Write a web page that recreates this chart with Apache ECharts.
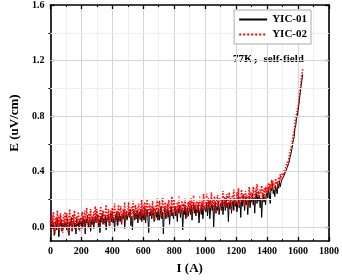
<!DOCTYPE html>
<html><head><meta charset="utf-8">
<script src="https://cdn.jsdelivr.net/npm/echarts@6/dist/echarts.min.js"></script>
<style>html,body{margin:0;padding:0;background:#fff}#c{width:342px;height:280px}</style>
</head><body><div id="c"></div>
<script>
// Current (A), sampled every 5 A
const currentA = [
0,5,10,15,20,25,30,35,40,45,50,55,60,65,70,75,80,85,90,95,
100,105,110,115,120,125,130,135,140,145,150,155,160,165,170,175,180,185,190,195,
200,205,210,215,220,225,230,235,240,245,250,255,260,265,270,275,280,285,290,295,
300,305,310,315,320,325,330,335,340,345,350,355,360,365,370,375,380,385,390,395,
400,405,410,415,420,425,430,435,440,445,450,455,460,465,470,475,480,485,490,495,
500,505,510,515,520,525,530,535,540,545,550,555,560,565,570,575,580,585,590,595,
600,605,610,615,620,625,630,635,640,645,650,655,660,665,670,675,680,685,690,695,
700,705,710,715,720,725,730,735,740,745,750,755,760,765,770,775,780,785,790,795,
800,805,810,815,820,825,830,835,840,845,850,855,860,865,870,875,880,885,890,895,
900,905,910,915,920,925,930,935,940,945,950,955,960,965,970,975,980,985,990,995,
1000,1005,1010,1015,1020,1025,1030,1035,1040,1045,1050,1055,1060,1065,1070,1075,1080,1085,1090,1095,
1100,1105,1110,1115,1120,1125,1130,1135,1140,1145,1150,1155,1160,1165,1170,1175,1180,1185,1190,1195,
1200,1205,1210,1215,1220,1225,1230,1235,1240,1245,1250,1255,1260,1265,1270,1275,1280,1285,1290,1295,
1300,1305,1310,1315,1320,1325,1330,1335,1340,1345,1350,1355,1360,1365,1370,1375,1380,1385,1390,1395,
1400,1405,1410,1415,1420,1425,1430,1435,1440,1445,1450,1455,1460,1465,1470,1475,1480,1485,1490,1495,
1500,1505,1510,1515,1520,1525,1530,1535,1540,1545,1550,1555,1560,1565,1570,1575,1580,1585,1590,1595,
1600,1605,1610,1615,1620,1625,1630];
// E (uV/cm), YIC-01
const yic01 = [
0.02,-0.03,0.05,-0.01,0.03,-0.06,0.01,0.04,-0.02,0.06,0.00,-0.07,0.03,0.01,0.05,-0.03,0.02,-0.01,0.04,0.00,
0.03,-0.02,0.06,0.00,-0.06,0.04,0.01,0.07,-0.03,0.02,0.05,-0.01,0.03,-0.05,0.06,0.01,0.04,-0.02,0.05,0.02,
0.04,-0.01,0.07,0.02,0.05,-0.05,0.06,0.03,0.08,0.00,0.04,0.06,-0.03,0.05,0.02,0.07,-0.01,0.04,0.08,0.03,
0.05,0.09,0.00,0.06,-0.04,0.08,0.04,0.10,0.02,0.06,0.03,0.08,-0.02,0.07,0.05,0.09,0.01,0.06,0.10,0.04,
0.10,0.03,0.07,-0.03,0.09,0.05,0.11,0.01,0.06,0.10,0.04,0.08,0.02,0.09,0.06,0.12,-0.01,0.07,0.10,0.05,
0.04,0.11,0.07,0.13,0.01,0.08,-0.02,0.09,0.12,0.05,0.10,0.06,0.12,0.03,0.09,0.11,0.06,0.13,0.04,0.08,
0.10,0.05,0.14,0.03,0.09,0.13,0.07,-0.04,0.11,0.08,0.12,0.06,0.10,0.14,0.04,0.09,0.12,0.07,0.11,0.05,
0.13,0.05,0.10,0.15,0.06,0.11,-0.05,0.09,0.14,0.06,0.10,0.13,0.07,0.12,0.02,0.10,0.15,0.08,0.11,0.06,
0.11,0.15,0.08,0.12,0.04,0.14,0.10,0.16,0.07,0.11,0.13,-0.02,0.12,0.09,0.15,0.06,0.11,0.14,0.08,0.12,
0.14,0.09,0.16,0.05,0.12,0.17,0.10,0.15,0.08,0.13,0.11,0.16,0.03,0.12,0.14,0.09,0.17,0.06,0.12,0.15,
0.15,0.11,0.18,0.08,0.14,0.19,0.06,0.13,0.17,0.12,0.16,0.00,0.14,0.18,0.10,0.15,0.12,0.19,0.09,0.14,
0.17,0.12,0.20,0.09,0.15,0.19,0.12,0.21,0.14,0.17,0.04,0.18,0.13,0.20,0.10,0.16,0.19,0.12,0.21,0.15,
0.19,0.11,0.16,0.22,0.14,0.18,0.07,0.20,0.15,0.23,0.17,0.12,0.21,0.16,0.19,0.09,0.18,0.22,0.14,0.20,
0.18,0.24,0.16,0.21,0.10,0.20,0.25,0.17,0.22,0.19,0.23,0.14,0.21,0.07,0.19,0.24,0.18,0.22,0.16,0.23,
0.25,0.21,0.28,0.23,0.17,0.28,0.26,0.32,0.24,0.27,0.22,0.30,0.27,0.24,0.31,0.28,0.33,0.29,0.32,0.34,
0.35,0.34,0.37,0.36,0.40,0.39,0.43,0.42,0.46,0.45,0.51,0.50,0.56,0.57,0.63,0.65,0.71,0.73,0.78,0.80,
0.84,0.88,0.93,0.97,1.02,1.06,1.10];
// E (uV/cm), YIC-02
const yic02 = [
0.05,-0.03,0.09,0.01,0.11,0.04,-0.05,0.07,0.02,0.12,0.00,0.08,-0.02,0.10,0.03,0.06,-0.04,0.09,0.02,0.11,
0.00,0.10,0.04,-0.04,0.07,0.13,0.01,0.05,-0.02,0.09,0.03,0.12,0.06,-0.01,0.08,0.02,0.11,0.04,-0.03,0.07,
0.03,0.11,0.06,0.00,0.12,0.04,0.09,0.14,0.02,0.07,0.10,-0.01,0.13,0.05,0.08,0.01,0.11,0.06,0.15,0.03,
0.13,0.04,0.09,0.00,0.10,0.15,0.06,0.03,0.12,0.08,0.02,0.11,0.16,0.07,0.04,0.13,0.09,0.01,0.12,0.06,
0.14,0.05,0.10,0.17,0.07,0.02,0.12,0.09,0.16,0.06,0.11,0.15,0.03,0.10,0.13,0.08,0.18,0.05,0.12,0.09,
0.11,0.18,0.08,0.13,0.04,0.15,0.10,0.19,0.07,0.12,0.16,0.06,0.14,0.09,0.17,0.11,0.05,0.13,0.20,0.08,
0.16,0.09,0.18,0.06,0.13,0.20,0.11,0.07,0.17,0.12,0.15,0.08,0.19,0.10,0.14,0.05,0.16,0.12,0.21,0.09,
0.10,0.19,0.13,0.07,0.16,0.21,0.12,0.09,0.18,0.14,0.06,0.17,0.11,0.20,0.13,0.08,0.15,0.22,0.10,0.16,
0.20,0.11,0.15,0.08,0.18,0.13,0.22,0.10,0.16,0.12,0.19,0.09,0.17,0.14,0.21,0.11,0.15,0.07,0.18,0.13,
0.19,0.13,0.21,0.09,0.16,0.23,0.12,0.17,0.14,0.20,0.10,0.18,0.15,0.22,0.11,0.16,0.19,0.13,0.24,0.12,
0.11,0.18,0.24,0.14,0.21,0.12,0.19,0.16,0.25,0.15,0.20,0.13,0.22,0.17,0.10,0.19,0.23,0.14,0.18,0.21,
0.22,0.13,0.19,0.26,0.16,0.22,0.18,0.14,0.24,0.20,0.15,0.25,0.17,0.21,0.12,0.23,0.19,0.27,0.16,0.20,
0.17,0.25,0.20,0.28,0.15,0.22,0.19,0.27,0.21,0.18,0.24,0.16,0.26,0.20,0.23,0.14,0.22,0.29,0.19,0.25,
0.26,0.20,0.29,0.23,0.19,0.28,0.24,0.31,0.22,0.26,0.18,0.27,0.25,0.30,0.21,0.24,0.28,0.20,0.29,0.25,
0.30,0.25,0.32,0.27,0.31,0.26,0.34,0.28,0.33,0.30,0.28,0.35,0.31,0.33,0.29,0.36,0.33,0.38,0.34,0.37,
0.39,0.37,0.41,0.39,0.43,0.42,0.47,0.45,0.50,0.49,0.55,0.54,0.60,0.61,0.67,0.69,0.75,0.76,0.81,0.82,
0.87,0.91,0.97,1.00,1.06,1.10,1.14];
const seriesNames = ['YIC-01','YIC-02'];
const annotation = '77K，self-field';
const xTicks = [0,200,400,600,800,1000,1200,1400,1600,1800];
const yMajor = [0, 0.4, 0.8, 1.2, 1.6];
const yMinor = [0.2, 0.6, 1.0, 1.4];

const FONT = '"Liberation Serif","Times New Roman","Noto Sans CJK SC",serif';
const pair = a => a.map((v, i) => [currentA[i], v]);
const AXLINE = { show: true, onZero: false, lineStyle: { color: '#000', width: 1.6 } };

const xFrame = (pos, extra) => Object.assign({
  type: 'value', min: xTicks[0], max: xTicks[xTicks.length - 1], interval: 200, position: pos,
  axisLine: AXLINE,
  axisTick: { show: true, inside: true, length: 4, lineStyle: { color: '#000', width: 1.3 } },
  minorTick: { show: true, splitNumber: 2, length: 2, lineStyle: { color: '#000', width: 1 } },
  axisLabel: { show: false }, splitLine: { show: false }
}, extra);

const yBase = { type: 'value', min: -0.1, max: 1.6 };
const yFrame = (pos, extra) => Object.assign({}, yBase, {
  position: pos, axisLine: AXLINE,
  axisTick: { show: true, inside: true, length: 4, customValues: yMajor, lineStyle: { color: '#000', width: 1.3 } },
  axisLabel: { show: false }, splitLine: { show: false }, minorTick: { show: false }
}, extra);
const yMinorAxis = (pos) => Object.assign({}, yBase, {
  position: pos, axisLine: { show: false },
  axisTick: { show: true, inside: true, length: 2, customValues: yMinor, lineStyle: { color: '#000', width: 1 } },
  axisLabel: { show: false }, splitLine: { show: false }, minorTick: { show: false }
});

const gridLines = [].concat(
  yMinor.map(v => ({ yAxis: v, lineStyle: { color: '#eeeeee', width: 1, type: 'solid' } })),
  yMajor.slice(0, -1).map(v => ({ yAxis: v, lineStyle: { color: '#d4d4d4', width: 1, type: 'solid' } }))
);

const chart = echarts.init(document.getElementById('c'), null, { renderer: 'canvas' });
chart.setOption({
  animation: false,
  backgroundColor: '#fff',
  grid: { left: 34, right: 11, top: 5, bottom: 37, containLabel: false },
  legend: {
    data: seriesNames, orient: 'vertical', right: 31, top: 10, z: 10,
    backgroundColor: '#fff',
    borderColor: '#aaa', borderWidth: 1, padding: [4, 4, 4, 4], itemGap: 4,
    itemWidth: 28, itemHeight: 10,
    itemStyle: { opacity: 0 },
    textStyle: { fontFamily: FONT, fontWeight: 'bold', fontSize: 11, color: '#000' }
  },
  xAxis: [
    xFrame('bottom', {
      name: 'I (A)', nameLocation: 'middle', nameGap: 21,
      nameTextStyle: { fontFamily: FONT, fontWeight: 'bold', fontSize: 13, color: '#000' },
      axisLabel: { show: true, margin: 5, fontFamily: FONT, fontWeight: 'bold', fontSize: 10, color: '#000',
        formatter: v => String(v) },
      splitLine: { show: true, lineStyle: { color: '#d4d4d4', width: 1 } },
      minorSplitLine: { show: true, lineStyle: { color: '#eeeeee', width: 1 } }
    }),
    xFrame('top', {})
  ],
  yAxis: [
    yFrame('left', {
      name: 'E (uV/cm)', nameLocation: 'middle', nameGap: 27, nameRotate: 90,
      nameTextStyle: { fontFamily: FONT, fontWeight: 'bold', fontSize: 13, color: '#000' },
      axisLabel: { show: true, margin: 6, customValues: yMajor, fontFamily: FONT, fontWeight: 'bold', fontSize: 10, color: '#000',
        formatter: v => Number(v).toFixed(1) }
    }),
    yFrame('right', {}),
    yMinorAxis('left'),
    yMinorAxis('right')
  ],
  graphic: [{
    type: 'text', left: 233, top: 54,
    style: { text: annotation, fontFamily: FONT, fontWeight: 'bold', fontSize: 11, fill: '#000' }
  }],
  series: [
    { name: 'grid', type: 'line', data: [], z: 1, silent: true, xAxisIndex: 0, yAxisIndex: 0,
      markLine: { silent: true, symbol: 'none', label: { show: false }, animation: false, data: gridLines } },
    { name: seriesNames[0], type: 'line', xAxisIndex: 0, yAxisIndex: 0, data: pair(yic01), z: 3,
      showSymbol: false, symbol: 'none', lineStyle: { color: '#000', width: 1 }, itemStyle: { color: '#000' } },
    { name: seriesNames[1], type: 'line', xAxisIndex: 0, yAxisIndex: 0, data: pair(yic02), z: 4,
      showSymbol: false, symbol: 'none', lineStyle: { color: '#ff0000', width: 1.5, type: 'dotted' }, itemStyle: { color: '#ff0000' } }
  ]
});
</script></body></html>
